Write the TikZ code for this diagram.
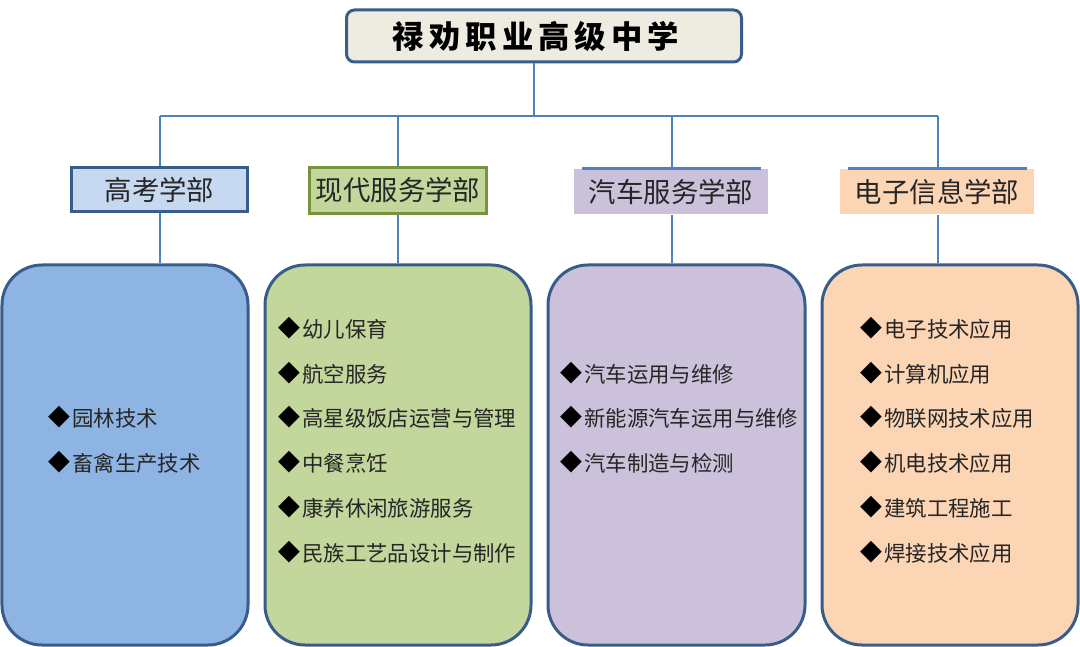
\documentclass[tikz,border=0pt]{standalone}
\usepackage{fontspec}
\setmainfont{Noto Sans CJK SC}
\newfontfamily\titlefont[LetterSpace=16]{Noto Sans CJK SC}
\newfontfamily\symfont{DejaVu Sans}
\definecolor{bordblue}{HTML}{385D8A}
\definecolor{linkblue}{HTML}{4F81BD}
\definecolor{titlefill}{HTML}{EEECE1}
\definecolor{gkfill}{HTML}{C6D9F1}
\definecolor{bluefill}{HTML}{8EB4E3}
\definecolor{greenfill}{HTML}{C3D69B}
\definecolor{greenbord}{HTML}{77933C}
\definecolor{purplefill}{HTML}{CCC1DA}
\definecolor{peachfill}{HTML}{FCD5B5}
\tikzset{
  link/.style={draw=linkblue, line width=1.3bp},
  dept/.style={inner sep=0pt, font=\fontsize{27.5}{30}\selectfont, text=black!85},
  bigbox/.style={draw=bordblue, line width=3bp, rounded corners=40bp, inner sep=0pt},
  item/.style={anchor=west, inner sep=0pt, font=\fontsize{21.5}{24}\selectfont, text=black!85},
  bullet/.style={inner sep=0pt, font=\symfont\fontsize{28.5}{28}\selectfont, text=black},
}
% \itm{name}{x of bullet left}{y of row centre}{text}
\newcommand{\itm}[4]{%
  \node[bullet] (#1b) at ({#2+9},{#3-0.5}) {◆};
  \node[item] (#1) at ({#2+22},{#3}) {#4};}
\begin{document}
\begin{tikzpicture}[x=1bp,y=-1bp]
\useasboundingbox (0,0) rectangle (1080,647);
% title
\node[draw=bordblue, line width=3bp, fill=titlefill, rounded corners=8bp,
  minimum width=395bp, minimum height=52bp, inner sep=0pt] (top) at (544,36) {};
\node[inner sep=0pt, font=\titlefont\fontsize{31.5}{34}\selectfont\bfseries] (toptext) at (536,36) {禄劝职业高级中学};
% department boxes
\node[dept, draw=bordblue, line width=3bp, fill=gkfill, minimum width=176bp, minimum height=44bp] (d1) at (159.5,189.5) {高考学部};
\node[dept, draw=greenbord, line width=3bp, fill=greenfill, minimum width=177bp, minimum height=46bp] (d2) at (398,190.5) {现代服务学部};
\node[dept, fill=purplefill, minimum width=194bp, minimum height=45bp] (d3) at (671,192) {汽车服务学部};
\node[dept, fill=peachfill, minimum width=194bp, minimum height=45bp] (d4) at (937,192) {电子信息学部};
\draw[draw=linkblue, line width=2.5bp] (582,168.5) -- (761,168.5);
\draw[draw=linkblue, line width=2.5bp] (848,168.5) -- (1027,168.5);
% big boxes
\node[bigbox, fill=bluefill, minimum width=246bp, minimum height=380bp] (b1) at (125,455) {};
\node[bigbox, fill=greenfill, minimum width=266bp, minimum height=380bp] (b2) at (398,455) {};
\node[bigbox, fill=purplefill, minimum width=257bp, minimum height=380bp] (b3) at (676.5,455) {};
\node[bigbox, fill=peachfill, minimum width=256bp, minimum height=380bp] (b4) at (950,455) {};
% connectors
\coordinate (hub) at (534,116);
\coordinate (j1) at (160,116);
\coordinate (j2) at (398,116);
\coordinate (j3) at (672,116);
\coordinate (j4) at (938,116);
\draw[link] (top.south -| hub) -- (hub);
\draw[link] (j1) -- (j4);
\draw[link] (j1) -- (d1.north -| j1);
\draw[link] (j2) -- (d2.north -| j2);
\draw[link] (j3) -- (d3.north -| j3);
\draw[link] (j4) -- (d4.north -| j4);
\draw[link] (d1.south -| j1) -- (b1.north -| j1);
\draw[link] (d2.south -| j2) -- (b2.north -| j2);
\draw[link] (d3.south -| j3) -- (b3.north -| j3);
\draw[link] (d4.south -| j4) -- (b4.north -| j4);
% items box 1
\itm{a1}{50}{418}{园林技术}
\itm{a2}{50}{463}{畜禽生产技术}
% items box 2
\itm{c1}{280}{329}{幼儿保育}
\itm{c2}{280}{374}{航空服务}
\itm{c3}{280}{418}{高星级饭店运营与管理}
\itm{c4}{280}{463}{中餐烹饪}
\itm{c5}{280}{508}{康养休闲旅游服务}
\itm{c6}{280}{553}{民族工艺品设计与制作}
% items box 3
\itm{e1}{562}{374}{汽车运用与维修}
\itm{e2}{562}{418}{新能源汽车运用与维修}
\itm{e3}{562}{463}{汽车制造与检测}
% items box 4
\itm{f1}{862}{329}{电子技术应用}
\itm{f2}{862}{374}{计算机应用}
\itm{f3}{862}{418}{物联网技术应用}
\itm{f4}{862}{463}{机电技术应用}
\itm{f5}{862}{508}{建筑工程施工}
\itm{f6}{862}{553}{焊接技术应用}
\end{tikzpicture}
\end{document}
